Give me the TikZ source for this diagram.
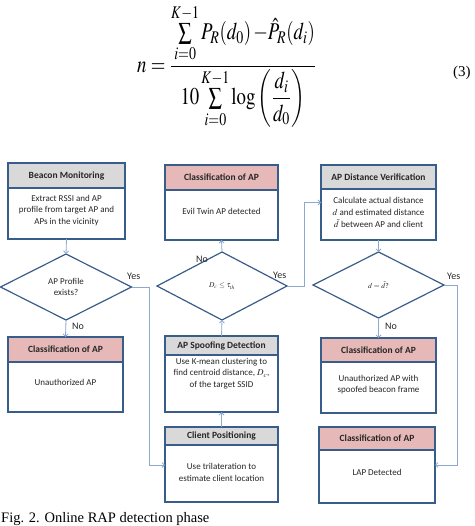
\documentclass[tikz,border=0pt]{standalone}
\usepackage{mathptmx}
\usepackage{fontspec}
\setmainfont{Liberation Serif}
\newfontfamily\cb{Carlito}
\usetikzlibrary{shapes.geometric,arrows.meta}
\definecolor{bord}{RGB}{56,93,138}
\definecolor{conn}{RGB}{140,168,205}
\definecolor{gry}{RGB}{217,217,217}
\definecolor{pnk}{RGB}{230,185,184}
\definecolor{txtc}{RGB}{38,38,38}
\tikzset{
  hdr/.style={draw=bord, line width=1.2pt, outer sep=0pt, inner sep=0pt, rectangle,
    font=\cb\bfseries\fontsize{9.5}{10}\selectfont, text=txtc},
  bdy/.style={draw=bord, line width=1.2pt, outer sep=0pt, inner sep=0pt, rectangle, fill=white},
  btxt/.style={font=\cb\fontsize{9}{11.2}\selectfont, align=center, text=txtc, inner sep=0pt},
  dia/.style={draw=bord, line width=1.2pt, diamond, inner sep=0pt, outer sep=0pt, aspect=2,
    font=\cb\fontsize{9}{11}\selectfont, align=center, text=txtc},
  conn/.style={draw=conn, line width=0.8pt, -{Straight Barb[length=2.5pt,width=5pt]}},
  yn/.style={font=\cb\fontsize{10}{12}\selectfont, text=txtc, inner sep=0pt}
}
\newcommand{\mkbox}[8]{%
  \node[hdr, fill=#7, minimum width=#3pt, minimum height=#5pt, anchor=north] (#1h) at (#2,#4) {#8};
  \node[bdy, minimum width=#3pt, minimum height=#6pt, anchor=north] (#1) at (#1h.south) {};
}
\begin{document}
\begin{tikzpicture}[x=1pt,y=-1pt]
\useasboundingbox (0,0) rectangle (474,526);

% equation
\node[anchor=west, inner sep=0pt] (eq) at (137,66) {\scalebox{1.3}[1.66]{\fontsize{14.5}{17}\selectfont$\displaystyle n=\frac{\sum\limits_{i=0}^{K-1}P_R(d_0)\,{-}\hat{P}_R(d_i)}{10\sum\limits_{i=0}^{K-1}\log\left({\displaystyle\frac{d_i}{d_0}}\right)}$}};
\node[anchor=base west, inner sep=0pt] (eqn) at (453,77) {\fontsize{15}{17}\selectfont(3)};

% boxes
\mkbox{bm}{66.5}{117}{163}{25}{51}{gry}{Beacon Monitoring}
\mkbox{ct}{221.5}{113}{165}{25}{50}{pnk}{Classification of AP}
\mkbox{adv}{378.5}{115}{165}{24}{51}{gry}{AP Distance Verification}
\mkbox{cl}{65.5}{115}{337}{25}{50}{pnk}{Classification of AP}
\mkbox{as}{221.5}{113}{336}{19}{57}{gry}{AP Spoofing Detection}
\mkbox{cp}{221.5}{113}{427}{18}{57}{gry}{Client Positioning}
\mkbox{cr}{378.5}{115}{338}{24}{51}{pnk}{Classification of AP}
\mkbox{lap}{377}{116}{427}{23}{53}{pnk}{Classification of AP}

\node[btxt] (bmt) at ([yshift=3pt]bm.center) {Extract RSSI and AP\\profile from target AP and\\APs in the vicinity};
\node[btxt] (ctt) at ([yshift=4pt]ct.center) {Evil Twin AP detected};
\node[btxt] (advt) at ([yshift=2pt]adv.center) {Calculate actual distance\\[0.5pt]$d$ and estimated\ distance\\[1pt]$\tilde d$ between AP and client};
\node[btxt] (clt) at ([yshift=5pt]cl.center) {Unauthorized AP};
\node[btxt] (ast) at ([yshift=10pt]as.center) {Use K-mean clustering to\\find centroid distance, $D_c$,\\of the target SSID};
\node[btxt] (cpt) at ([yshift=1pt]cp.center) {Use trilateration to\\estimate client location};
\node[btxt] (crt) at ([yshift=3pt]cr.center) {Unauthorized AP with\\spoofed beacon frame};
\node[btxt] (lapt) at ([yshift=4pt]lap.center) {LAP Detected};

% diamonds
\node[dia, minimum width=131pt, minimum height=66pt] (d1) at (66,287) {AP Profile\\exists?};
\node[dia, minimum width=130pt, minimum height=68pt] (d2) at (222,286) {\fontsize{7.5}{9}\selectfont$D_c \le \tau_{th}$};
\node[dia, minimum width=131pt, minimum height=66pt] (d3) at (378.5,285) {\fontsize{7.5}{9}\selectfont$d = \tilde d$?};

% connectors
\draw[conn] (bm.south) -- (d1.north);
\draw[conn] (d1.south) -- (clh.north);
\draw[conn] (d1.east) -- (149,287) |- ([yshift=8.5pt]cp.west);
\draw[conn] (cph.north) -- (as.south);
\draw[conn] (ash.north) -- (d2.south);
\draw[conn] (d2.north) -- (ct.south);
\draw[conn] (d2.east) -- (304,286) |- ([yshift=12pt]adv.west);
\draw[conn] (adv.south) -- (d3.north);
\draw[conn] (d3.south) -- (crh.north);
\draw[conn] (d3.east) -- (457,285) |- ([yshift=11.5pt]lap.east);

% labels
\node[yn, anchor=west] (y1) at (127,276) {Yes};
\node[yn, anchor=west] (n1) at (72,326) {No};
\node[yn, anchor=west] (y2) at (273,275) {Yes};
\node[yn, anchor=west] (n2) at (196,259) {No};
\node[yn, anchor=west] (y3) at (447,276) {Yes};
\node[yn, anchor=west] (n3) at (385,326) {No};

% caption
\node[anchor=base west, inner sep=0pt] (cap) at (1,522) {\fontsize{14.5}{17}\selectfont Fig. 2. Online RAP detection phase};
\end{tikzpicture}
\end{document}
